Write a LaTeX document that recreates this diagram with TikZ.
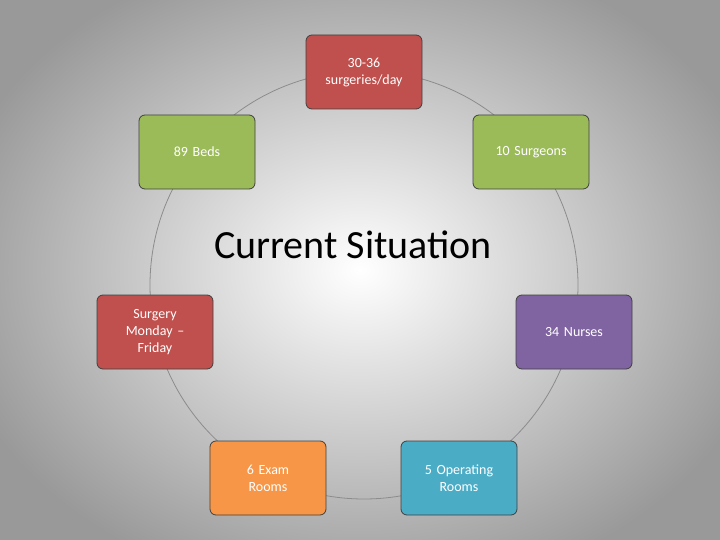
\documentclass[tikz,border=0pt]{standalone}
\usepackage{fontspec}
\setmainfont{Carlito}
\usetikzlibrary{shadings}
\definecolor{cred}{HTML}{C0504D}
\definecolor{cgreen}{HTML}{9BBB59}
\definecolor{cpurple}{HTML}{8064A2}
\definecolor{caqua}{HTML}{4BACC6}
\definecolor{corange}{HTML}{F79646}
\begin{document}
\begin{tikzpicture}[x=1pt,y=-1pt,
  box/.style={draw=black!75,line width=0.8pt,rounded corners=6pt,minimum width=116pt,minimum height=74pt,text width=104pt,align=center,font=\fontsize{14}{17}\selectfont,text=white}]
\useasboundingbox (0,0) rectangle (720,540);
\shade[inner color=white,outer color=black!40] (-60,-60) rectangle (780,600);
\node[circle,draw=black!45,line width=0.8pt,minimum size=428pt] (c) at (364,285) {};
\node[font=\fontsize{40}{46}\selectfont] (t) at (353,245) {Current Situation};
\node[box,fill=cred] (a) at (364,72) {30-36\\surgeries/day};
\node[box,fill=cgreen] (b) at (531,152) {10 Surgeons};
\node[box,fill=cpurple] (d) at (574,332) {34 Nurses};
\node[box,fill=caqua] (e) at (459,478) {5 Operating\\Rooms};
\node[box,fill=corange] (f) at (268,478) {6 Exam\\Rooms};
\node[box,fill=cred] (g) at (155,332) {Surgery\\Monday --\\Friday};
\node[box,fill=cgreen] (h) at (197,152) {89 Beds};
\end{tikzpicture}
\end{document}
